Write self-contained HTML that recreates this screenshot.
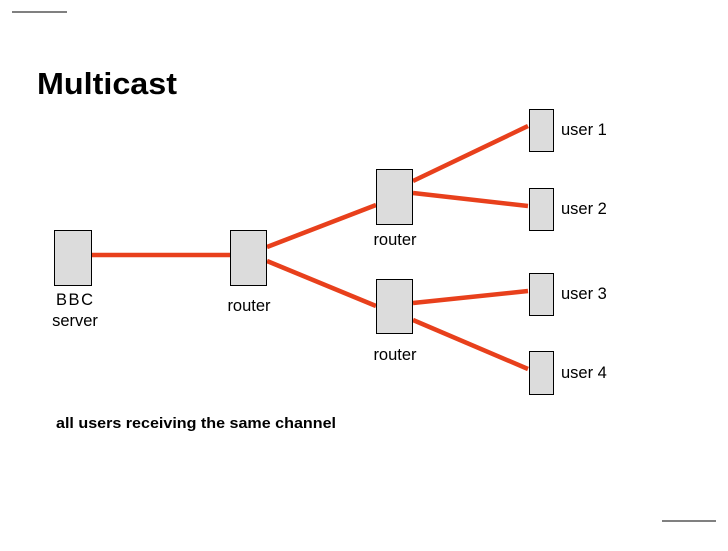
<!DOCTYPE html>
<html><head><style>
body{margin:0;background:#fff}
</style></head><body>
<svg width="728" height="546" xmlns="http://www.w3.org/2000/svg" font-family="Liberation Sans, Arial, sans-serif">
<line x1="12" y1="12" x2="67" y2="12" stroke="#000" stroke-width="1"/>
<line x1="662" y1="521" x2="716" y2="521" stroke="#000" stroke-width="1"/>
<text x="37" y="94" font-size="31" font-weight="bold" textLength="140" lengthAdjust="spacingAndGlyphs">Multicast</text>
<g stroke="#e8401c" stroke-width="4.5" stroke-linecap="butt">
<line x1="91" y1="255" x2="230" y2="255"/>
<line x1="267" y1="247" x2="376" y2="205"/>
<line x1="267" y1="261" x2="376" y2="306"/>
<line x1="413" y1="181" x2="528" y2="126"/>
<line x1="413" y1="193" x2="528" y2="206"/>
<line x1="413" y1="303" x2="528" y2="291"/>
<line x1="413" y1="320" x2="528" y2="369"/>
</g>
<g fill="#dcdcdc" stroke="#000" stroke-width="1">
<rect x="54.5" y="230.5" width="37" height="55"/>
<rect x="230.5" y="230.5" width="36" height="55"/>
<rect x="376.5" y="169.5" width="36" height="55"/>
<rect x="376.5" y="279.5" width="36" height="54"/>
<rect x="529.5" y="109.5" width="24" height="42"/>
<rect x="529.5" y="188.5" width="24" height="42"/>
<rect x="529.5" y="273.5" width="24" height="42"/>
<rect x="529.5" y="351.5" width="24" height="43"/>
</g>
<g font-size="16.5" fill="#000">
<text x="56" y="305" textLength="37" lengthAdjust="spacing">BBC</text>
<text x="75" y="326" text-anchor="middle">server</text>
<text x="249" y="311" text-anchor="middle">router</text>
<text x="395" y="245" text-anchor="middle">router</text>
<text x="395" y="360" text-anchor="middle">router</text>
<text x="561" y="135">user 1</text>
<text x="561" y="214">user 2</text>
<text x="561" y="299">user 3</text>
<text x="561" y="378">user 4</text>
</g>
<text x="56" y="428" font-size="15" font-weight="bold" textLength="280" lengthAdjust="spacingAndGlyphs">all users receiving the same channel</text>
</svg>
</body></html>
